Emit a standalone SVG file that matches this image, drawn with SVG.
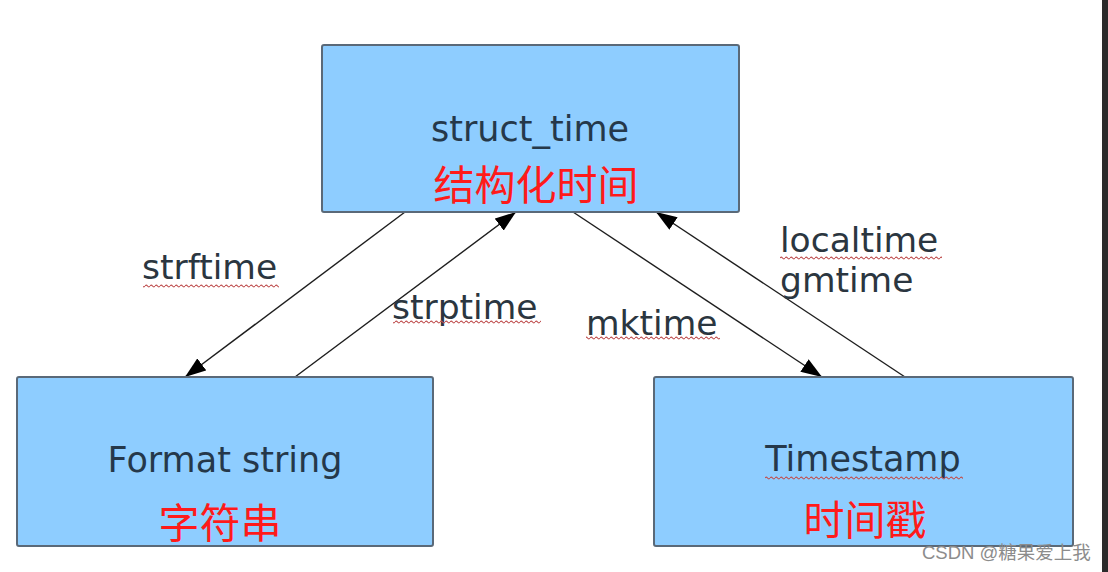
<svg xmlns="http://www.w3.org/2000/svg" width="1108" height="572" viewBox="0 0 1108 572">
  <style>
    .box { fill: #8ecdff; stroke: #5a6978; stroke-width: 2; }
    .en { font-family: "DejaVu Sans", "Liberation Sans", sans-serif; font-size: 35px; fill: #25384a; text-anchor: middle; }
    .lbl { font-family: "DejaVu Sans", "Liberation Sans", sans-serif; font-size: 34.5px; fill: #2b3640; }
    .cn { font-family: "Noto Sans CJK SC", sans-serif; font-size: 41px; fill: #ff1a1a; text-anchor: middle; }
    .edge { stroke: #1e1e1e; stroke-width: 1.4; fill: none; marker-end: url(#arrow); }
    .wave { fill: url(#squiggle); }
    .wm { font-family: "Liberation Sans", "Noto Sans CJK SC", sans-serif; font-size: 18.5px; fill: #8c8c8c; }
  </style>
  <defs>
    <marker id="arrow" viewBox="0 0 21 15" refX="21" refY="7.5" markerWidth="21" markerHeight="15" markerUnits="userSpaceOnUse" orient="auto">
      <path d="M0 0 L21 7.5 L0 15 Z" fill="#000"/>
    </marker>
    <pattern id="squiggle" patternUnits="userSpaceOnUse" width="5" height="4">
      <path d="M0 2 Q1.25 0.2 2.5 2 T5 2" fill="none" stroke="#c05050" stroke-width="1.1"/>
    </pattern>
  </defs>
  <rect width="1108" height="572" fill="#ffffff"/>
  <rect x="1102" y="0" width="6" height="572" fill="#2b2b2b"/>

  <g id="connectors">
    <line class="edge" x1="405" y1="212" x2="185" y2="377"/>
    <line class="edge" x1="295" y1="377" x2="516" y2="212"/>
    <line class="edge" x1="573" y1="212" x2="822" y2="377"/>
    <line class="edge" x1="905" y1="377" x2="656" y2="212"/>
    <text class="lbl" x="142" y="279">strftime</text>
    <rect class="wave" x="143" y="284" width="136" height="4"/>
    <text class="lbl" x="392" y="319">strptime</text>
    <rect class="wave" x="393" y="320" width="148" height="4"/>
    <text class="lbl" x="586" y="335">mktime</text>
    <rect class="wave" x="586" y="336" width="134" height="4"/>
    <text class="lbl" x="780" y="252">localtime</text>
    <rect class="wave" x="780" y="256" width="162" height="4"/>
    <text class="lbl" x="780" y="292">gmtime</text>
  </g>

  <g id="struct_time">
    <rect class="box" x="322" y="45" width="417" height="167" rx="2"/>
    <text class="en" x="530" y="141">struct_time</text>
    <text class="cn" x="536" y="200">结构化时间</text>
  </g>

  <g id="format_string">
    <rect class="box" x="17" y="377" width="416" height="169" rx="2"/>
    <text class="en" x="225" y="472">Format string</text>
    <text class="cn" x="220" y="538">字符串</text>
  </g>

  <g id="timestamp">
    <rect class="box" x="654" y="377" width="419" height="169" rx="2"/>
    <text class="en" x="863" y="471">Timestamp</text>
    <rect class="wave" x="765" y="476" width="198" height="4"/>
    <text class="cn" x="865" y="535">时间戳</text>
  </g>

  <text class="wm" x="922" y="559">CSDN @糖果爱上我</text>
</svg>
